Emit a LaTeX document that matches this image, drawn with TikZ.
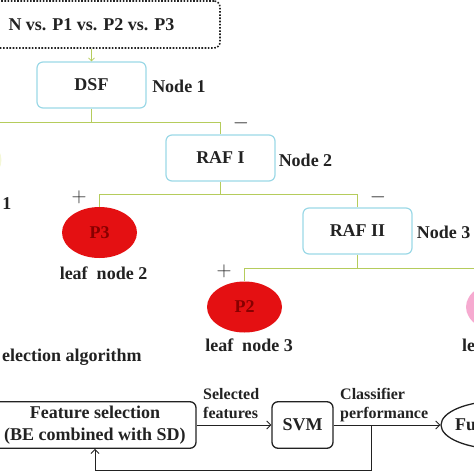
\documentclass[tikz,border=0pt]{standalone}
\usepackage{fontspec}
\setmainfont{Liberation Serif}
\usetikzlibrary{arrows.meta,shapes.geometric}
\definecolor{lgreen}{RGB}{181,204,92}
\definecolor{lcyan}{RGB}{155,216,230}
\definecolor{txt}{RGB}{34,34,34}
\definecolor{leafred}{RGB}{228,16,18}
\definecolor{leaftxt}{RGB}{135,0,0}
\definecolor{leafpink}{RGB}{246,170,208}
\definecolor{leafpale}{RGB}{244,247,215}
\tikzset{
  big/.style={font=\fontsize{18}{21}\selectfont\bfseries, text=txt, inner sep=0pt},
  mid/.style={font=\fontsize{16}{19}\selectfont\bfseries, text=txt, inner sep=0pt},
  sign/.style={font=\fontsize{20}{23}\selectfont, text=txt, inner sep=0pt},
  treebox/.style={draw=lcyan, line width=1.2pt, rounded corners=6pt, minimum width=109pt, minimum height=46pt, big},
  leaf/.style={ellipse, minimum width=75pt, minimum height=51pt, inner sep=0pt, font=\fontsize{18}{21}\selectfont\bfseries, text=leaftxt},
  tline/.style={draw=lgreen, line width=1pt},
  flowbox/.style={draw=txt, line width=1.3pt, rounded corners=6pt, big, align=center},
  flow/.style={draw=txt, line width=0.9pt},
  farrow/.style={flow, -{Straight Barb[length=4pt,width=8pt,line width=0.9pt]}},
}
\begin{document}
\begin{tikzpicture}[x=1pt,y=-1pt]
\useasboundingbox (0,0) rectangle (474,474);
\clip (0,0) rectangle (474,474);
% top dotted box
\node[draw=txt, line width=1.6pt, dash pattern=on 1.6pt off 1.6pt, rounded corners=6pt,
      minimum width=257pt, minimum height=47pt, big] (top) at (91.5,24.5) {N vs. P1 vs. P2 vs. P3};
% tree nodes
\node[treebox] (dsf) at (91.5,85) {DSF};
\node[big] (n1) at (179,86) {Node 1};
\node[treebox] (raf1) at (220.5,158) {RAF I};
\node[big] (n2) at (305.5,160) {Node 2};
\node[treebox] (raf2) at (357.5,231) {RAF II};
\node[big] (n3) at (443.5,232) {Node 3};
\node[leaf, fill=leafpale] (l1) at (-36,160) {};
\node[leaf, fill=leafred] (p3) at (99.5,232.5) {P3};
\node[leaf, fill=leafred] (p2) at (244.5,307) {P2};
\node[leaf, fill=leafpink] (l4) at (503.5,307) {};
\node[big, anchor=east] (ll1) at (11.5,203) {leaf\ \ node 1};
\node[big] (ll2) at (103.5,273) {leaf\ \ node 2};
\node[big] (ll3) at (249,345) {leaf\ \ node 3};
\node[big, anchor=west] (ll4) at (462,345) {leaf\ \ node 4};
\begin{scope}
\clip (2,340) rectangle (200,372);
\node[big, anchor=west] (cap) at (2,357) {\llap{s}election algorithm};
\end{scope}
% signs
\node[sign] (s1) at (241,123) {$-$};
\node[sign] (s2) at (79,197) {$+$};
\node[sign] (s3) at (378,197) {$-$};
\node[sign] (s4) at (224,271) {$+$};
% tree connectors
\draw[tline, -{Straight Barb[length=3pt,width=6pt,line width=0.8pt]}] (top.south -| dsf.north) -- (dsf.north);
\draw[tline] (dsf.south) -- ++(0,14) coordinate (j1) -| (raf1.north);
\draw[tline] (j1) -| (l1.north);
\draw[tline] (raf1.south) -- ++(0,13) coordinate (j2) -| (raf2.north);
\draw[tline] (j2) -| (p3.north);
\draw[tline] (raf2.south) -- ++(0,14) coordinate (j3) -| (p2.north);
\draw[tline] (j3) -| (l4.north);
% bottom flow
\node[flowbox, minimum width=202pt, minimum height=46.5pt] (fs) at (95,425)
  {Feature selection\\[1pt](BE combined with SD)};
\node[flowbox, minimum width=61pt, minimum height=46.5pt] (svm) at (302.5,425) {SVM};
\node[draw=txt, line width=1.3pt, ellipse, minimum width=118pt, minimum height=48pt] (fu) at (500,425) {};
\node[big, anchor=west] (fut) at (455,425) {Fu};
\node[mid, anchor=base west] (sel1) at (203,399) {Selected};
\node[mid, anchor=base west] (sel2) at (203,418) {features};
\node[mid, anchor=base west] (cl1) at (340,399) {Classifier};
\node[mid, anchor=base west] (cl2) at (340,418) {performance};
\draw[farrow] (fs.east) -- (svm.west);
\draw[farrow] (svm.east) -- (fu.west);
\coordinate (fb) at (371,425);
\draw[farrow] (fb) -- (371,470.5) -| (fs.south);
\end{tikzpicture}
\end{document}
